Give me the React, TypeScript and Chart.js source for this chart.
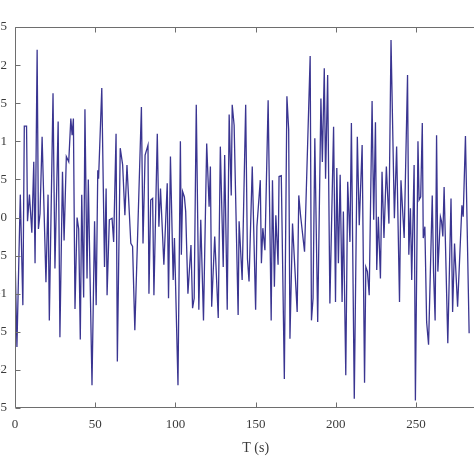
import { useEffect, useRef } from "react";
import { Chart, registerables } from "chart.js";

Chart.register(...registerables);

const times = [
  0, 1.2, 3.3, 4.9, 5.8, 7.2, 7.8, 9, 10.5, 11.7, 12.5, 13.8, 14.6, 15.6, 16.9, 19.3, 20.6, 21.4, 23.7, 24.9,
  26.9, 28, 29.6, 30.6, 32, 33.5, 34.8, 35.6, 36.4, 37.4, 38.7, 39.7, 40.7, 41.6, 42.8, 43.6, 44.9, 45.7, 48,
  49.6, 50.6, 51.6, 52.1, 54.1, 55.8, 56.8, 57.4, 58.8, 60.5, 61.5, 63, 63.8, 65.6, 67.1, 68.5, 69.8, 72.2, 73.3, 74.7,
  78.8, 79.8, 81.1, 82.9, 83.5, 84.6, 85.8, 86.6, 88.7, 89.7, 90.7, 92.8, 94.9, 95.7, 96.9,
  98.6, 99.4, 101.6, 103.1, 103.7, 104.5, 105.6, 106.4, 107.8, 109.7, 110.7, 111.7, 113, 114.6, 115.8, 117.5, 119.5, 121, 121.8, 122.6,
  124.5, 126.7, 128, 129.8, 130.7, 132.3, 133.5, 134.8, 135.4, 136.6, 139.1, 139.7, 141.6, 143.8, 144.9, 145.9,
  147.9, 150, 150.8, 152.9, 153.6, 154.5, 155.8, 157.8, 159.7, 160.5, 161.7, 162.6, 164, 164.6, 166, 167.9, 169.5, 170.6, 171.4, 173,
  175.9, 176.9, 178, 180.5, 184, 184.8, 185.8, 186.9, 188.7, 190.7, 191.6, 192.8,
  193.6, 194.9, 196.3, 198.6, 199.8, 200.6, 201.6, 202.7, 203.9, 204.7, 206.2, 207.4, 208.8, 209.7, 211.5, 213.4, 214.6, 216.4, 217.9, 218.7,
  219.7, 220.8, 222.6, 223.6, 224.7, 225.5, 226.5, 227.8, 228.8, 230, 231.5, 233.1, 234.4, 236.5, 237.9,
  239.7, 240.6, 242.6, 244.7, 245.5, 246.5, 247.3, 248.8, 249.6, 251.2, 251.9, 252.9, 253.9, 254.5, 255.5, 256.6, 257.8, 260.1, 260.9, 261.9,
  262.8, 263.6, 265.2, 265.9, 266.7, 267.5, 269.8, 271.8, 272.8, 274, 275.9, 278.6, 279.4, 280.8, 283.1,
];

const values = [
  -0.45, -1.7, 0.3, -1.15, 1.2, 1.2, -0.05, 0.3, -0.2, 0.73, -0.6, 2.2, -0.15, 0.05, 1.06, -0.85, 0.3, -1.35, 1.63, -0.67,
  1.26, -1.57, 0.6, -0.3, 0.8, 0.73, 1.3, 1.08, 1.3, -1.2, 0, -0.15, -1.6, 0.3, -1.05, 1.42, -0.8, 0.5, -2.2,
  -0.05, -1.15, 0.62, 0.51, 1.7, -0.65, 0.38, -1.02, -0.03, -0.01, -0.32, 1.1, -1.89, 0.91, 0.69, 0.03, 0.69, -0.34, -0.38, -1.48,
  1.45, -0.34, 0.82, 0.95, -1.0, 0.23, 0.25, -1.02, 1.1, -0.12, 0.38, -0.62, 0.45, -1.06, 0.8,
  -0.82, -0.27, -2.2, 1.0, -0.49, 0.34, 0.27, 0.08, -1.0, -0.36, -1.19, -1.06, 1.48, -1.21, -0.03, -1.35, 0.97, 0.14, 0.67, -1.17,
  -0.25, -1.32, 0.93, -0.65, 0.82, -1.21, 1.35, 0.29, 1.48, 1.21, -1.28, -0.05, -0.82, 1.48, -0.54, -0.84,
  0.67, -1.21, -0.12, 0.49, -0.6, -0.14, -0.43, 1.54, -1.35, 0.49, -0.91, 0.03, -0.62, 0.54, 0.55, -2.12, 1.59, 1.15, -1.59, -0.08,
  -1.24, 0.29, 0.03, -0.45, 2.12, -1.35, -1.06, 1.04, -1.37, 1.56, 0.73, 1.96,
  0.51, 1.87, -1.13, 1.19, -1.11, 0.65, -0.6, 0.56, -1.11, 0.08, -2.07, 0.47, -0.32, 1.24, -2.38, 1.06, -0.1, 0.95, -2.17, -0.65,
  -0.71, -1.02, 1.53, -0.03, 1.25, -0.69, 0.01, -0.8, 0.6, -0.27, 0.67, -0.08, 2.33, -0.01, 0.93,
  -1.11, 0.49, -0.27, 1.87, -0.49, 0.12, -0.82, 0.69, -2.4, 1.0, 0.23, 0.27, 1.24, -0.27, -0.12, -1.37, -1.67, 0.29, -0.71, -1.35,
  1.08, -0.71, 0.01, -0.05, -0.25, 0.4, -1.65, 0.25, -1.24, -0.34, -1.17, 0.16, 0.01, 1.07, -1.52,
];

const xTickValues = [0, 50, 100, 150, 200, 250, 300];
const yTickValues = [-2.5, -2, -1.5, -1, -0.5, 0, 0.5, 1, 1.5, 2, 2.5];
const xAxisTitle = "T (s)";

const FONT = '"Liberation Serif", "Times New Roman", Times, serif';
const LINE_COLOR = "#3a3591";
const FRAME_COLOR = "#6e6e6e";
const TEXT_COLOR = "#3a3a3a";

const framePlugin = {
  id: "frame",
  afterDatasetsDraw(chart: any) {
    const { ctx, chartArea: a, scales } = chart;
    const xs = scales.x;
    const ys = scales.y;
    const L = Math.round(a.left) + 0.5;
    const R = Math.round(a.right) + 0.5;
    const T = Math.round(a.top) + 0.5;
    const B = Math.round(a.bottom) - 0.5;
    const tl = 5;
    ctx.save();
    ctx.strokeStyle = FRAME_COLOR;
    ctx.lineWidth = 1;
    ctx.beginPath();
    ctx.moveTo(L, T);
    ctx.lineTo(R, T);
    ctx.lineTo(R, B);
    ctx.lineTo(L, B);
    ctx.closePath();
    ctx.stroke();
    ctx.beginPath();
    xTickValues.forEach((v) => {
      const px = Math.round(xs.getPixelForValue(v)) + 0.5;
      ctx.moveTo(px, B);
      ctx.lineTo(px, B - tl);
      ctx.moveTo(px, T);
      ctx.lineTo(px, T + tl);
    });
    yTickValues.forEach((v) => {
      const py = Math.round(ys.getPixelForValue(v)) + 0.5;
      ctx.moveTo(L, py);
      ctx.lineTo(L + tl, py);
      ctx.moveTo(R, py);
      ctx.lineTo(R - tl, py);
    });
    ctx.stroke();
    ctx.restore();
  },
};

export default function App() {
  const ref = useRef<HTMLCanvasElement | null>(null);

  useEffect(() => {
    if (!ref.current) return;
    const points = times.map((t, i) => ({ x: t, y: values[i] }));
    const chart = new Chart(ref.current, {
      type: "line",
      data: {
        datasets: [
          {
            data: points,
            borderColor: LINE_COLOR,
            borderWidth: 1.3,
            pointRadius: 0,
            tension: 0,
            fill: false,
          },
        ],
      },
      options: {
        animation: false,
        responsive: false,
        devicePixelRatio: 1,
        layout: { padding: { left: 0, right: 14, top: 27, bottom: 0 } },
        plugins: {
          legend: { display: false },
          tooltip: { enabled: false },
          title: { display: false },
        },
        scales: {
          x: {
            type: "linear",
            min: 0,
            max: 300,
            grid: { display: false, drawTicks: false },
            border: { display: false },
            afterBuildTicks: (scale: any) => {
              scale.ticks = xTickValues.map((v) => ({ value: v }));
            },
            afterFit: (scale: any) => {
              scale.height = 66;
            },
            ticks: {
              padding: 9,
              maxRotation: 0,
              autoSkip: false,
              color: TEXT_COLOR,
              font: { family: FONT, size: 13 },
              callback: (v: any) => String(Number(v)),
            },
            title: {
              display: true,
              text: xAxisTitle,
              color: TEXT_COLOR,
              font: { family: FONT, size: 14 },
              padding: { top: 0, bottom: 17 },
            },
          },
          y: {
            type: "linear",
            min: -2.5,
            max: 2.5,
            grid: { display: false, drawTicks: false },
            border: { display: false },
            afterBuildTicks: (scale: any) => {
              scale.ticks = yTickValues.map((v) => ({ value: v }));
            },
            afterFit: (scale: any) => {
              scale.width = 40;
            },
            ticks: {
              padding: 8,
              autoSkip: false,
              color: TEXT_COLOR,
              font: { family: FONT, size: 13 },
              callback: (v: any) => String(Number(v)),
            },
          },
        },
      },
      plugins: [framePlugin],
    });
    return () => chart.destroy();
  }, []);

  return (
    <div
      style={{
        position: "fixed",
        left: 0,
        top: 0,
        width: 474,
        height: 474,
        overflow: "hidden",
        background: "#ffffff",
      }}
    >
      <canvas
        ref={ref}
        width={540}
        height={474}
        style={{ position: "absolute", left: -25, top: 0, width: 540, height: 474 }}
      />
    </div>
  );
}
